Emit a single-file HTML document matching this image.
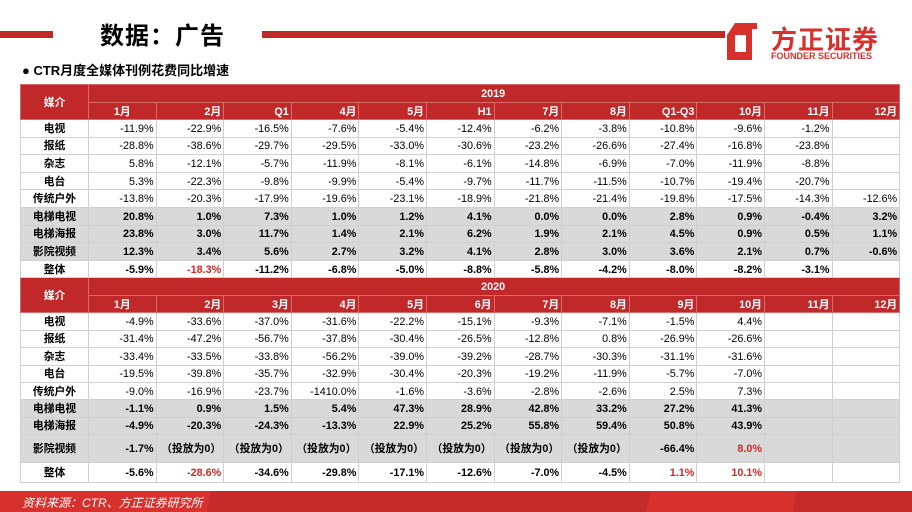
<!DOCTYPE html>
<html><head><meta charset="utf-8"><style>
body{margin:0;width:912px;height:512px;overflow:hidden;background:#fff;position:relative;font-family:"Liberation Sans","Noto Sans CJK SC",sans-serif}
.ln{position:absolute;height:7px;background:#c0282a;top:31px}
.title{position:absolute;left:100px;top:16px;font-size:24px;font-weight:bold;color:#000;letter-spacing:1px}
.sub{position:absolute;left:22px;top:60px;font-size:13px;font-weight:bold}
table{position:absolute;left:20px;top:84px;border-collapse:collapse;table-layout:fixed;width:879px;font-size:10.8px}
td{border:1px solid #d0d0d0;text-align:right;padding:1px 2px 0 0;white-space:nowrap;overflow:hidden;line-height:12px}
td:first-child{text-align:center;font-weight:bold;padding:1px 0 0}
tr.h td{background:#c0282a;color:#fff;font-weight:bold;border-color:#d86a6a}
tr.g td{background:#d9d9d9;font-weight:bold}
tr.b td{font-weight:bold}
.r{color:#d0282a}
.foot{position:absolute;left:0;top:491px;width:912px;height:21px;background:linear-gradient(100deg,#d8302d 0,#d8302d 23%,#c52b29 23%,#c52b29 71%,#d8302d 71%,#d8302d 87%,#c42a28 87%)}
.foot span{position:absolute;left:22px;top:3px;color:#fff;font-style:italic;font-size:12px}
</style></head><body>
<div class="ln" style="left:0;width:53px"></div>
<div class="ln" style="left:262px;width:463px"></div>
<div class="title">数据：广告</div>
<svg style="position:absolute;left:727px;top:22px" width="30" height="40" viewBox="0 0 30 40"><path d="M8 1H30V7H25V38H0V13Z M8 13V30H19V13Z" fill="#d8302d" fill-rule="evenodd"/></svg>
<div style="position:absolute;left:771px;top:20px;font-size:26px;font-weight:bold;color:#d8302d;letter-spacing:1px">方正证券</div>
<div style="position:absolute;left:771px;top:51px;font-size:9px;font-weight:bold;color:#d8302d">FOUNDER SECURITIES</div>
<div class="sub">● CTR月度全媒体刊例花费同比增速</div>
<table>
<colgroup><col style="width:68px"><col span="12" style="width:67.6px"></colgroup>
<tr class="h" style="height:18px"><td rowspan="2">媒介</td><td colspan="12" style="text-align:center">2019</td></tr>
<tr class="h" style="height:17px"><td>1月</td><td>2月</td><td>Q1</td><td>4月</td><td>5月</td><td>H1</td><td>7月</td><td>8月</td><td>Q1-Q3</td><td>10月</td><td>11月</td><td>12月</td></tr>
<tr style="height:17.6px"><td>电视</td><td>-11.9%</td><td>-22.9%</td><td>-16.5%</td><td>-7.6%</td><td>-5.4%</td><td>-12.4%</td><td>-6.2%</td><td>-3.8%</td><td>-10.8%</td><td>-9.6%</td><td>-1.2%</td><td></td></tr>
<tr style="height:17.6px"><td>报纸</td><td>-28.8%</td><td>-38.6%</td><td>-29.7%</td><td>-29.5%</td><td>-33.0%</td><td>-30.6%</td><td>-23.2%</td><td>-26.6%</td><td>-27.4%</td><td>-16.8%</td><td>-23.8%</td><td></td></tr>
<tr style="height:17.6px"><td>杂志</td><td>5.8%</td><td>-12.1%</td><td>-5.7%</td><td>-11.9%</td><td>-8.1%</td><td>-6.1%</td><td>-14.8%</td><td>-6.9%</td><td>-7.0%</td><td>-11.9%</td><td>-8.8%</td><td></td></tr>
<tr style="height:17.6px"><td>电台</td><td>5.3%</td><td>-22.3%</td><td>-9.8%</td><td>-9.9%</td><td>-5.4%</td><td>-9.7%</td><td>-11.7%</td><td>-11.5%</td><td>-10.7%</td><td>-19.4%</td><td>-20.7%</td><td></td></tr>
<tr style="height:17.6px"><td>传统户外</td><td>-13.8%</td><td>-20.3%</td><td>-17.9%</td><td>-19.6%</td><td>-23.1%</td><td>-18.9%</td><td>-21.8%</td><td>-21.4%</td><td>-19.8%</td><td>-17.5%</td><td>-14.3%</td><td>-12.6%</td></tr>
<tr class="g" style="height:17.6px"><td>电梯电视</td><td>20.8%</td><td>1.0%</td><td>7.3%</td><td>1.0%</td><td>1.2%</td><td>4.1%</td><td>0.0%</td><td>0.0%</td><td>2.8%</td><td>0.9%</td><td>-0.4%</td><td>3.2%</td></tr>
<tr class="g" style="height:17.6px"><td>电梯海报</td><td>23.8%</td><td>3.0%</td><td>11.7%</td><td>1.4%</td><td>2.1%</td><td>6.2%</td><td>1.9%</td><td>2.1%</td><td>4.5%</td><td>0.9%</td><td>0.5%</td><td>1.1%</td></tr>
<tr class="g" style="height:17.6px"><td>影院视频</td><td>12.3%</td><td>3.4%</td><td>5.6%</td><td>2.7%</td><td>3.2%</td><td>4.1%</td><td>2.8%</td><td>3.0%</td><td>3.6%</td><td>2.1%</td><td>0.7%</td><td>-0.6%</td></tr>
<tr class="b" style="height:17.6px"><td>整体</td><td>-5.9%</td><td class="r">-18.3%</td><td>-11.2%</td><td>-6.8%</td><td>-5.0%</td><td>-8.8%</td><td>-5.8%</td><td>-4.2%</td><td>-8.0%</td><td>-8.2%</td><td>-3.1%</td><td></td></tr>
<tr class="h" style="height:18px"><td rowspan="2">媒介</td><td colspan="12" style="text-align:center">2020</td></tr>
<tr class="h" style="height:17px"><td>1月</td><td>2月</td><td>3月</td><td>4月</td><td>5月</td><td>6月</td><td>7月</td><td>8月</td><td>9月</td><td>10月</td><td>11月</td><td>12月</td></tr>
<tr style="height:17.4px"><td>电视</td><td>-4.9%</td><td>-33.6%</td><td>-37.0%</td><td>-31.6%</td><td>-22.2%</td><td>-15.1%</td><td>-9.3%</td><td>-7.1%</td><td>-1.5%</td><td>4.4%</td><td></td><td></td></tr>
<tr style="height:17.4px"><td>报纸</td><td>-31.4%</td><td>-47.2%</td><td>-56.7%</td><td>-37.8%</td><td>-30.4%</td><td>-26.5%</td><td>-12.8%</td><td>0.8%</td><td>-26.9%</td><td>-26.6%</td><td></td><td></td></tr>
<tr style="height:17.4px"><td>杂志</td><td>-33.4%</td><td>-33.5%</td><td>-33.8%</td><td>-56.2%</td><td>-39.0%</td><td>-39.2%</td><td>-28.7%</td><td>-30.3%</td><td>-31.1%</td><td>-31.6%</td><td></td><td></td></tr>
<tr style="height:17.4px"><td>电台</td><td>-19.5%</td><td>-39.8%</td><td>-35.7%</td><td>-32.9%</td><td>-30.4%</td><td>-20.3%</td><td>-19.2%</td><td>-11.9%</td><td>-5.7%</td><td>-7.0%</td><td></td><td></td></tr>
<tr style="height:17.4px"><td>传统户外</td><td>-9.0%</td><td>-16.9%</td><td>-23.7%</td><td>-1410.0%</td><td>-1.6%</td><td>-3.6%</td><td>-2.8%</td><td>-2.6%</td><td>2.5%</td><td>7.3%</td><td></td><td></td></tr>
<tr class="g" style="height:17.4px"><td>电梯电视</td><td>-1.1%</td><td>0.9%</td><td>1.5%</td><td>5.4%</td><td>47.3%</td><td>28.9%</td><td>42.8%</td><td>33.2%</td><td>27.2%</td><td>41.3%</td><td></td><td></td></tr>
<tr class="g" style="height:17.4px"><td>电梯海报</td><td>-4.9%</td><td>-20.3%</td><td>-24.3%</td><td>-13.3%</td><td>22.9%</td><td>25.2%</td><td>55.8%</td><td>59.4%</td><td>50.8%</td><td>43.9%</td><td></td><td></td></tr>
<tr class="g" style="height:28px"><td>影院视频</td><td>-1.7%</td><td>（投放为0）</td><td>（投放为0）</td><td>（投放为0）</td><td>（投放为0）</td><td>（投放为0）</td><td>（投放为0）</td><td>（投放为0）</td><td>-66.4%</td><td class="r">8.0%</td><td></td><td></td></tr>
<tr class="b" style="height:20px"><td>整体</td><td>-5.6%</td><td class="r">-28.6%</td><td>-34.6%</td><td>-29.8%</td><td>-17.1%</td><td>-12.6%</td><td>-7.0%</td><td>-4.5%</td><td class="r">1.1%</td><td class="r">10.1%</td><td></td><td></td></tr>
</table>
<div class="foot"><span>资料来源：CTR、方正证券研究所</span></div>
</body></html>
